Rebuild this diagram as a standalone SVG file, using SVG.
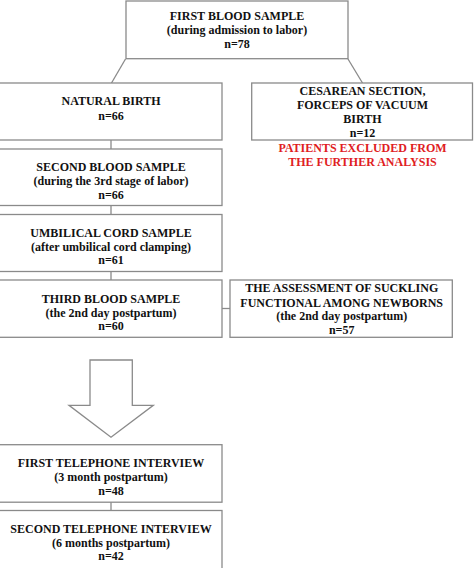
<svg xmlns="http://www.w3.org/2000/svg" width="474" height="568" viewBox="0 0 474 568">
<style>
.box{fill:#fff;stroke:#8a8a8a;stroke-width:1.3}
.ln{fill:none;stroke:#8a8a8a;stroke-width:1.3}
text{font-family:"Liberation Serif","Times New Roman",serif;font-weight:bold;font-size:12px;fill:#111;text-anchor:middle}
.red{fill:#e0201e}
</style>
<rect width="474" height="568" fill="#fff"/>
<g id="connectors">
<line class="ln" x1="125.5" y1="59" x2="111.5" y2="83"/>
<line class="ln" x1="348" y1="59" x2="362.5" y2="83"/>
<line class="ln" x1="111" y1="140" x2="111" y2="149"/>
<line class="ln" x1="111" y1="205.5" x2="111" y2="214.5"/>
<line class="ln" x1="111" y1="271.5" x2="111" y2="280"/>
<line class="ln" x1="222" y1="308.5" x2="230" y2="308.5"/>
<line class="ln" x1="111" y1="502" x2="111" y2="510.5"/>
<polygon id="big-arrow" class="ln" points="90,360 132.3,360 132.3,405.3 153.3,405.3 111,437.3 69,405.3 90,405.3"/>
</g>
<g id="n-first">
<rect class="box" x="126" y="1" width="222" height="57.7"/>
<text x="237" y="19.5">FIRST BLOOD SAMPLE</text>
<text x="237" y="33.5">(during admission to labor)</text>
<text x="237" y="47.5">n=78</text>
</g>
<g id="n-natural">
<rect class="box" x="-2" y="83" width="224" height="57"/>
<text x="111" y="105">NATURAL BIRTH</text>
<text x="111" y="120">n=66</text>
</g>
<g id="n-cesarean">
<rect class="box" x="251.7" y="83" width="220.8" height="57"/>
<text x="362.5" y="95">CESAREAN SECTION,</text>
<text x="362.5" y="109.2">FORCEPS OF VACUUM</text>
<text x="362.5" y="122.5">BIRTH</text>
<text x="362.5" y="136.5">n=12</text>
</g>
<g id="n-excluded">
<text class="red" x="362.5" y="151.5">PATIENTS EXCLUDED FROM</text>
<text class="red" x="362.5" y="166">THE FURTHER ANALYSIS</text>
</g>
<g id="n-second">
<rect class="box" x="-2" y="149" width="224" height="56.5"/>
<text x="111" y="171">SECOND BLOOD SAMPLE</text>
<text x="111" y="185">(during the 3rd stage of labor)</text>
<text x="111" y="198.5">n=66</text>
</g>
<g id="n-umbilical">
<rect class="box" x="-2" y="214.5" width="224" height="57"/>
<text x="111" y="236.5">UMBILICAL CORD SAMPLE</text>
<text x="111" y="251">(after umbilical cord clamping)</text>
<text x="111" y="264.3">n=61</text>
</g>
<g id="n-third">
<rect class="box" x="-2" y="280" width="224" height="57.3"/>
<text x="111" y="302.5">THIRD BLOOD SAMPLE</text>
<text x="111" y="317">(the 2nd day postpartum)</text>
<text x="111" y="330">n=60</text>
</g>
<g id="n-assessment">
<rect class="box" x="230" y="280" width="222.3" height="57.3"/>
<text x="341.7" y="292">THE ASSESSMENT OF SUCKLING</text>
<text x="341.7" y="306.5">FUNCTIONAL AMONG NEWBORNS</text>
<text x="341.7" y="320.3">(the 2nd day postpartum)</text>
<text x="341.7" y="333.5">n=57</text>
</g>
<g id="n-tel1">
<rect class="box" x="-2" y="444.7" width="224" height="57.5"/>
<text x="111" y="467">FIRST TELEPHONE INTERVIEW</text>
<text x="111" y="481">(3 month postpartum)</text>
<text x="111" y="494.5">n=48</text>
</g>
<g id="n-tel2">
<rect class="box" x="-2" y="510.5" width="224" height="62"/>
<text x="111" y="533">SECOND TELEPHONE INTERVIEW</text>
<text x="111" y="547">(6 months postpartum)</text>
<text x="111" y="560.3">n=42</text>
</g>
</svg>
